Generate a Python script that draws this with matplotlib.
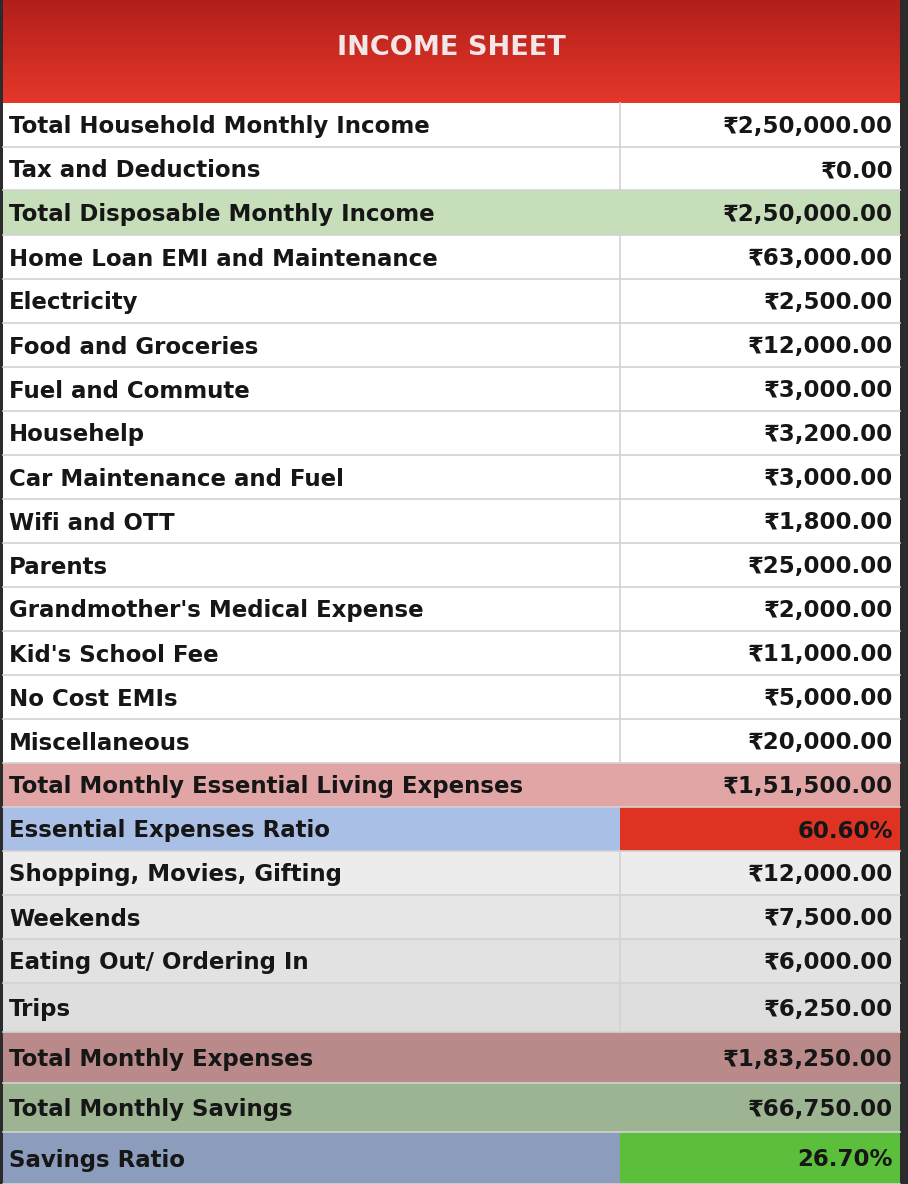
import matplotlib
matplotlib.use("Agg")
import matplotlib.pyplot as plt
import numpy as np
from matplotlib.patches import Rectangle
from matplotlib.colors import LinearSegmentedColormap

labels = ["Total Household Monthly Income", "Tax and Deductions", "Total Disposable Monthly Income",
          "Home Loan EMI and Maintenance", "Electricity", "Food and Groceries", "Fuel and Commute",
          "Househelp", "Car Maintenance and Fuel", "Wifi and OTT", "Parents",
          "Grandmother's Medical Expense", "Kid's School Fee", "No Cost EMIs", "Miscellaneous",
          "Total Monthly Essential Living Expenses", "Essential Expenses Ratio",
          "Shopping, Movies, Gifting", "Weekends", "Eating Out/ Ordering In", "Trips",
          "Total Monthly Expenses", "Total Monthly Savings", "Savings Ratio"]
values = ["₹2,50,000.00", "₹0.00", "₹2,50,000.00", "₹63,000.00", "₹2,500.00", "₹12,000.00",
          "₹3,000.00", "₹3,200.00", "₹3,000.00", "₹1,800.00", "₹25,000.00", "₹2,000.00",
          "₹11,000.00", "₹5,000.00", "₹20,000.00", "₹1,51,500.00", "60.60%", "₹12,000.00",
          "₹7,500.00", "₹6,000.00", "₹6,250.00", "₹1,83,250.00", "₹66,750.00", "26.70%"]
bounds = [103, 147, 190, 235, 279, 323, 367, 411, 455, 499, 543, 587, 631, 675, 719, 763,
          807, 851, 895, 939, 983, 1032, 1083, 1132, 1184]
left_colors = ["white", "white", "#c6deb9"] + ["white"] * 12 + ["#e1a5a5", "#aabfe6",
               "#ececec", "#e6e6e6", "#e2e2e2", "#dedede", "#ba8a8a", "#9db493", "#8c9cbc"]
right_colors = list(left_colors)
right_colors[16] = "#de3222"
right_colors[23] = "#5bbf3c"

W, H = 908, 1184
fig = plt.figure(figsize=(W / 100, H / 100), dpi=100)
ax = fig.add_axes([0, 0, 1, 1])
ax.set_xlim(0, W)
ax.set_ylim(H, 0)
ax.axis("off")
fig.patch.set_facecolor("#2b2b2b")

X0, XM, X1 = 3, 620, 900
grad = np.linspace(0, 1, 100).reshape(-1, 1)
cm = LinearSegmentedColormap.from_list("g", ["#b21f1a", "#e5372a"])
ax.imshow(grad, cmap=cm, extent=[X0, X1, 103, 0], aspect="auto", zorder=1)
fam = ["DejaVu Sans"]
ax.text((X0 + X1) / 2, 48, "INCOME SHEET", color="#f3e6e6", fontsize=19.5, fontweight="bold",
        ha="center", va="center", family=fam, zorder=3)

for i, (lab, val) in enumerate(zip(labels, values)):
    y0, y1 = bounds[i], bounds[i + 1]
    ax.add_patch(Rectangle((X0, y0), XM - X0, y1 - y0, facecolor=left_colors[i],
                           edgecolor="none", zorder=1))
    ax.add_patch(Rectangle((XM, y0), X1 - XM, y1 - y0, facecolor=right_colors[i],
                           edgecolor="none", zorder=1))
    ax.plot([X0, X1], [y1, y1], color="#d2d2d2", lw=1.2, zorder=2)
    if left_colors[i] in ("white", "#ececec", "#e6e6e6", "#e2e2e2", "#dedede"):
        ax.plot([XM, XM], [y0, y1], color="#d2d2d2", lw=1.2, zorder=2)
    yc = (y0 + y1) / 2 + 2
    ax.text(9, yc, lab, color="#161616", fontsize=16.5, fontweight="bold", ha="left",
            va="center", family=fam, zorder=3)
    ax.text(893, yc, val, color="#161616", fontsize=16.5, fontweight="bold", ha="right",
            va="center", family=fam, zorder=3)

fig.savefig("out.png", dpi=100, facecolor=fig.get_facecolor())
